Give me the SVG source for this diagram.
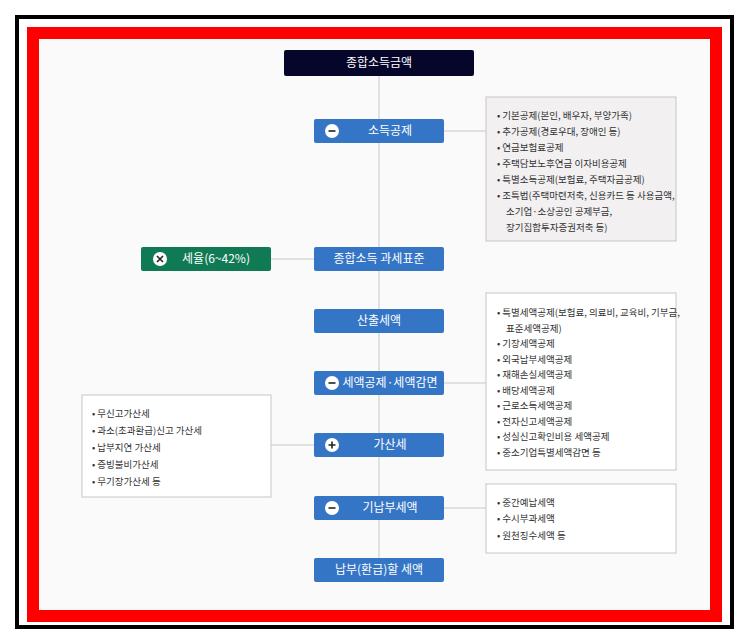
<svg xmlns="http://www.w3.org/2000/svg" width="749" height="642" viewBox="0 0 749 642">
<style>
.n{fill:#3575c6}
.t{font-family:"Noto Sans CJK KR","Noto Sans",sans-serif;font-size:12px;fill:#fff;text-anchor:middle}
.b{fill:#fff;stroke:#c8c4c6;stroke-width:1}
.l{font-family:"Noto Sans CJK KR","Noto Sans",sans-serif;font-size:9.5px;fill:#333}
.c{stroke:#c8c8c8;stroke-width:1;fill:none}
.ic{fill:#fff}
.is{stroke:#222;stroke-width:1.6}
</style>
<rect x="0" y="0" width="749" height="642" fill="#fff"/>
<rect x="17" y="17" width="715" height="610" fill="none" stroke="#000" stroke-width="4"/>
<rect x="33" y="33" width="683" height="583" fill="#fafafa" stroke="#f00" stroke-width="12"/>
<g id="connectors">
<line class="c" x1="379" y1="76" x2="379" y2="558"/>
<line class="c" x1="444" y1="131" x2="486" y2="131"/>
<line class="c" x1="271" y1="259" x2="314" y2="259"/>
<line class="c" x1="444" y1="383" x2="486" y2="383"/>
<line class="c" x1="271" y1="445" x2="314" y2="445"/>
<line class="c" x1="444" y1="508" x2="486" y2="508"/>
</g>
<g id="top"><rect x="284" y="50" width="190" height="26" rx="2" fill="#06062a"/><text class="t" x="379" y="67">종합소득금액</text></g>
<g id="n1"><rect class="n" x="314" y="119" width="130" height="24" rx="2"/><circle class="ic" cx="332" cy="131" r="7"/><line class="is" x1="328.5" y1="131" x2="335.5" y2="131"/><text class="t" x="390" y="135">소득공제</text></g>
<g id="n2"><rect class="n" x="314" y="247" width="130" height="24" rx="2"/><text class="t" x="379" y="263">종합소득 과세표준</text></g>
<g id="rate"><rect x="141" y="247" width="130" height="24" rx="2" fill="#107a55"/><circle class="ic" cx="160" cy="259" r="7"/><path class="is" d="M157 256l6 6M163 256l-6 6"/><text class="t" x="216" y="263">세율(6~42%)</text></g>
<g id="n3"><rect class="n" x="314" y="309" width="130" height="24" rx="2"/><text class="t" x="379" y="325">산출세액</text></g>
<g id="n4"><rect class="n" x="314" y="371" width="130" height="24" rx="2"/><circle class="ic" cx="332" cy="383" r="7"/><line class="is" x1="328.5" y1="383" x2="335.5" y2="383"/><text class="t" x="390" y="387">세액공제·세액감면</text></g>
<g id="n5"><rect class="n" x="314" y="433" width="130" height="24" rx="2"/><circle class="ic" cx="332" cy="445" r="7"/><path class="is" d="M328.5 445h7M332 441.5v7"/><text class="t" x="390" y="449">가산세</text></g>
<g id="n6"><rect class="n" x="314" y="496" width="130" height="24" rx="2"/><circle class="ic" cx="332" cy="508" r="7"/><line class="is" x1="328.5" y1="508" x2="335.5" y2="508"/><text class="t" x="390" y="512">기납부세액</text></g>
<g id="n7"><rect class="n" x="314" y="558" width="130" height="24" rx="2"/><text class="t" x="379" y="574">납부(환급)할 세액</text></g>
<g id="box1"><rect x="486" y="97" width="190" height="144" fill="#f2f0f1" stroke="#c8c4c6"/>
<text class="l" x="497" y="119">•  기본공제(본인, 배우자, 부양가족)</text>
<text class="l" x="497" y="135">•  추가공제(경로우대, 장애인 등)</text>
<text class="l" x="497" y="151">•  연금보험료공제</text>
<text class="l" x="497" y="167">•  주택담보노후연금 이자비용공제</text>
<text class="l" x="497" y="183">•  특별소득공제(보험료, 주택자금공제)</text>
<text class="l" x="497" y="199">•  조특법(주택마련저축, 신용카드 등 사용금액,</text>
<text class="l" x="506" y="215">소기업·소상공인 공제부금,</text>
<text class="l" x="506" y="231">장기집합투자증권저축 등)</text></g>
<g id="box2"><rect class="b" x="486" y="293" width="190" height="177"/>
<text class="l" x="497" y="316">•  특별세액공제(보험료, 의료비, 교육비, 기부금,</text>
<text class="l" x="506" y="332">표준세액공제)</text>
<text class="l" x="497" y="347">•  기장세액공제</text>
<text class="l" x="497" y="363">•  외국납부세액공제</text>
<text class="l" x="497" y="378">•  재해손실세액공제</text>
<text class="l" x="497" y="394">•  배당세액공제</text>
<text class="l" x="497" y="409">•  근로소득세액공제</text>
<text class="l" x="497" y="425">•  전자신고세액공제</text>
<text class="l" x="497" y="440">•  성실신고확인비용 세액공제</text>
<text class="l" x="497" y="456">•  중소기업특별세액감면 등</text></g>
<g id="box3"><rect class="b" x="82" y="395" width="189" height="102"/>
<text class="l" x="92" y="417">•  무신고가산세</text>
<text class="l" x="92" y="434">•  과소(초과환급)신고 가산세</text>
<text class="l" x="92" y="451">•  납부지연 가산세</text>
<text class="l" x="92" y="468">•  증빙불비가산세</text>
<text class="l" x="92" y="485">•  무기장가산세 등</text></g>
<g id="box4"><rect class="b" x="486" y="484" width="190" height="69"/>
<text class="l" x="497" y="506">•  중간예납세액</text>
<text class="l" x="497" y="522">•  수시부과세액</text>
<text class="l" x="497" y="539">•  원천징수세액 등</text></g>
</svg>
